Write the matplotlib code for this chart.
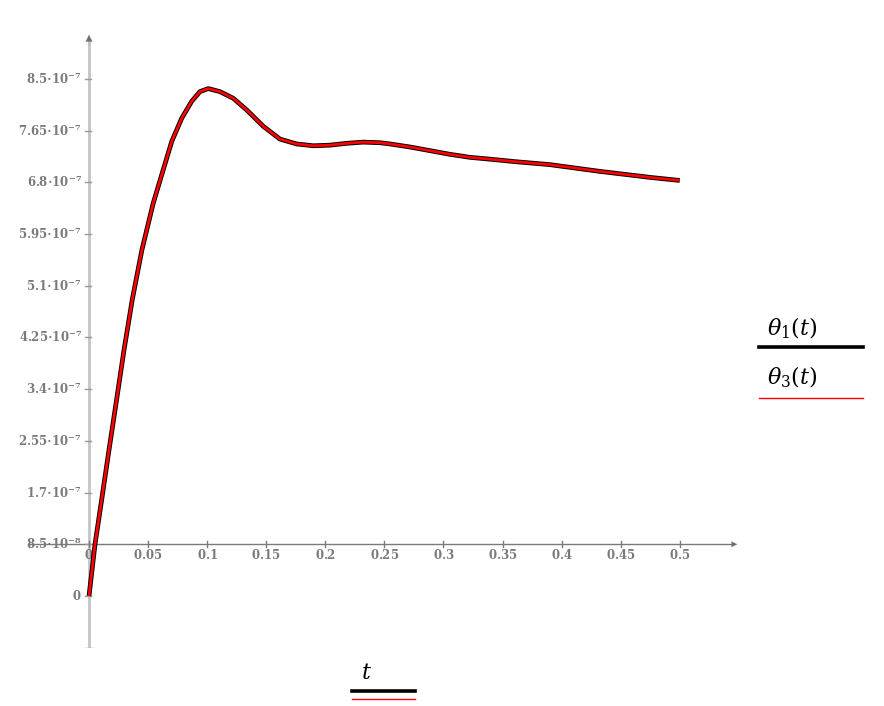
import numpy as np
import matplotlib.pyplot as plt

plt.rcParams['mathtext.fontset'] = 'dejavuserif'

# values
t = [0.0, 0.0051, 0.0107, 0.0169, 0.0233, 0.0296, 0.0366, 0.0448, 0.0544, 0.0615,
     0.0700, 0.0784, 0.0869, 0.0939, 0.1009, 0.1108, 0.1221, 0.1334, 0.1475, 0.1616,
     0.1757, 0.1898, 0.2039, 0.2180, 0.2321, 0.2462, 0.2547, 0.2716, 0.2885, 0.3054,
     0.3223, 0.3393, 0.3600, 0.390, 0.432, 0.475, 0.500]
theta = [0.0, 8.55e-8, 1.58e-7, 2.40e-7, 3.22e-7, 4.04e-7, 4.87e-7, 5.69e-7, 6.46e-7, 6.92e-7,
         7.47e-7, 7.85e-7, 8.13e-7, 8.29e-7, 8.34e-7, 8.29e-7, 8.18e-7, 7.99e-7, 7.72e-7, 7.51e-7,
         7.43e-7, 7.40e-7, 7.41e-7, 7.44e-7, 7.46e-7, 7.45e-7, 7.43e-7, 7.38e-7, 7.32e-7, 7.26e-7,
         7.21e-7, 7.18e-7, 7.14e-7, 7.09e-7, 6.98e-7, 6.88e-7, 6.83e-7]

yticks = [0, 8.5e-8, 1.7e-7, 2.55e-7, 3.4e-7, 4.25e-7, 5.1e-7, 5.95e-7, 6.8e-7, 7.65e-7, 8.5e-7]
ylabels = ['0', '8.5', '1.7', '2.55', '3.4', '4.25', '5.1', '5.95', '6.8', '7.65', '8.5']
yexps = ['', '-8', '-7', '-7', '-7', '-7', '-7', '-7', '-7', '-7', '-7']
xticks = [0, 0.05, 0.1, 0.15, 0.2, 0.25, 0.3, 0.35, 0.4, 0.45, 0.5]
xlabels = ['0', '0.05', '0.1', '0.15', '0.2', '0.25', '0.3', '0.35', '0.4', '0.45', '0.5']

W, H = 884, 706
fig = plt.figure(figsize=(W / 100, H / 100), dpi=100)
ax = fig.add_axes([29 / W, (H - 648) / H, 711 / W, 616 / H])
ax.set_xlim(-0.0508, 0.551)
ax.set_ylim(-8.55e-8, 9.27e-7)
ax.axis('off')

grey = '#7a7a7a'
xcross = 8.5e-8

# y axis (light grey) with arrow
ax.plot([0, 0], [-8.55e-8, 9.1e-7], color='#c4c4c4', lw=2, zorder=1)
ax.annotate('', xy=(0, 9.27e-7), xytext=(0, 9.0e-7),
            arrowprops=dict(arrowstyle='-|>', color='#6e6e6e', lw=0.1, mutation_scale=12))
ax.plot([-0.003, 0.003], [-8.55e-8, -8.55e-8], color='#9a9a9a', lw=1)

# x axis, drawn at y = 8.5e-8
ax.plot([-0.0508, 0.545], [xcross, xcross], color=grey, lw=1, zorder=1)
ax.annotate('', xy=(0.551, xcross), xytext=(0.53, xcross),
            arrowprops=dict(arrowstyle='-|>', color='#6e6e6e', lw=0.1, mutation_scale=10))
ax.plot([-0.0508, -0.0508], [xcross - 5e-9, xcross + 5e-9], color=grey, lw=1)

fs = 8.5
for v in xticks:
    ax.plot([v, v], [xcross - 4e-9, xcross + 5e-9], color=grey, lw=1)
for v, lab in zip(xticks, xlabels):
    ax.text(v, xcross - 6e-9, r'$\mathbf{%s}$' % lab, ha='center', va='top',
            fontsize=fs, color=grey)

for v, lab, e in zip(yticks, ylabels, yexps):
    ax.plot([-0.003, 0.002], [v, v], color='#9a9a9a', lw=1, zorder=1)
    s = lab if e == '' else lab + r'{\cdot}10^{' + e + '}'
    ax.text(-0.006, v, r'$\mathbf{%s}$' % s, ha='right', va='center',
            fontsize=fs, color=grey)

# curves
ax.plot(t, theta, color='black', lw=3.4, solid_capstyle='butt', solid_joinstyle='round', zorder=3)
ax.plot(t, theta, color='red', lw=2.0, solid_capstyle='butt', solid_joinstyle='round', zorder=4)

# legend on the right
fig.text(767 / W, 1 - 328 / H, r'$\theta_1(t)$', fontsize=16, ha='left', va='center')
fig.add_artist(plt.Line2D([759 / W, 863 / W], [1 - 347 / H, 1 - 347 / H], color='black', lw=2.6))
fig.text(767 / W, 1 - 377 / H, r'$\theta_3(t)$', fontsize=16, ha='left', va='center')
fig.add_artist(plt.Line2D([759 / W, 863 / W], [1 - 398 / H, 1 - 398 / H], color='red', lw=1))

# x label
fig.text(366 / W, 1 - 673 / H, r'$t$', fontsize=16, ha='center', va='center')
fig.add_artist(plt.Line2D([352 / W, 415 / W], [1 - 691 / H, 1 - 691 / H], color='black', lw=2.6))
fig.add_artist(plt.Line2D([352 / W, 415 / W], [1 - 699 / H, 1 - 699 / H], color='red', lw=1))

fig.savefig('out.png', dpi=100, facecolor='white')
